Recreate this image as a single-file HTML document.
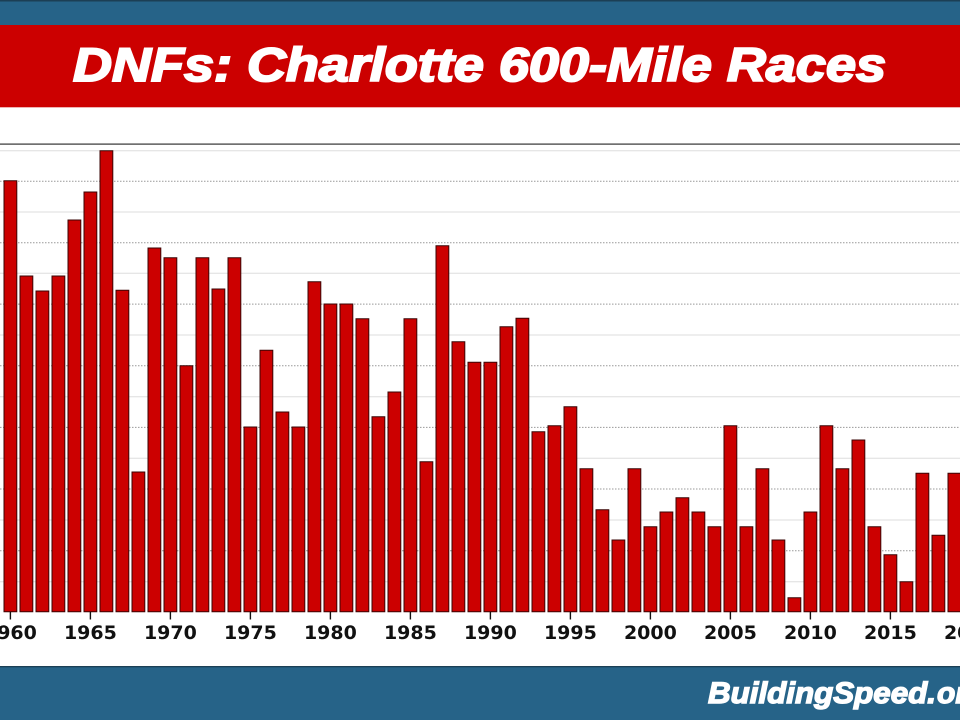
<!DOCTYPE html>
<html>
<head>
<meta charset="utf-8">
<style>
html,body{margin:0;padding:0;background:#fff;}
svg{display:block;}
</style>
</head>
<body>
<svg width="960" height="720" viewBox="0 0 960 720" xmlns="http://www.w3.org/2000/svg">
<rect x="0" y="0" width="960" height="720" fill="#ffffff"/>
<rect x="0" y="0" width="960" height="25" fill="#266388"/>
<rect x="0" y="0" width="960" height="1.5" fill="#1c3f55"/>
<rect x="0" y="25" width="960" height="82.3" fill="#cc0000"/>
<text x="73" y="81" font-family="Liberation Sans, sans-serif" font-weight="bold" font-style="italic" font-size="47" fill="#ffffff" stroke="#ffffff" stroke-width="2" textLength="813" lengthAdjust="spacingAndGlyphs">DNFs: Charlotte 600-Mile Races</text>
<rect x="0" y="143.5" width="960" height="1.2" fill="#333333"/>
<path d="M0 581.7H960M0 520H960M0 458.3H960M0 396.7H960M0 335H960M0 273.3H960M0 212H960M0 150.7H960" stroke="#dddddd" stroke-width="1" fill="none"/>
<path d="M0 550.8H960M0 489H960M0 427.4H960M0 365.8H960M0 304.1H960M0 242.7H960M0 181.2H960" stroke="#999999" stroke-width="1" stroke-dasharray="1.5,1.5" fill="none"/>
<path fill="#cc0000" stroke="#3a0505" stroke-width="1" d="M4 180.7h12.8V611.7H4zM20 276h12.8V611.7H20zM36 291h12.8V611.7H36zM52 276h12.8V611.7H52zM68 220h12.8V611.7H68zM84 192h12.8V611.7H84zM100 150.7h12.8V611.7H100zM116 290.3h12.8V611.7H116zM132 472h12.8V611.7H132zM148 248h12.8V611.7H148zM164 257.7h12.8V611.7H164zM180 365.7h12.8V611.7H180zM196 257.7h12.8V611.7H196zM212 289h12.8V611.7H212zM228 257.7h12.8V611.7H228zM244 427h12.8V611.7H244zM260 350.3h12.8V611.7H260zM276 412h12.8V611.7H276zM292 427h12.8V611.7H292zM308 281.7h12.8V611.7H308zM324 304h12.8V611.7H324zM340 304h12.8V611.7H340zM356 318.7h12.8V611.7H356zM372 416.7h12.8V611.7H372zM388 392h12.8V611.7H388zM404 318.7h12.8V611.7H404zM420 461.7h12.8V611.7H420zM436 245.7h12.8V611.7H436zM452 341.7h12.8V611.7H452zM468 362.3h12.8V611.7H468zM484 362.3h12.8V611.7H484zM500 326.7h12.8V611.7H500zM516 318.3h12.8V611.7H516zM532 431.7h12.8V611.7H532zM548 425.7h12.8V611.7H548zM564 406.7h12.8V611.7H564zM580 468.7h12.8V611.7H580zM596 509.7h12.8V611.7H596zM612 540h12.8V611.7H612zM628 468.7h12.8V611.7H628zM644 526.7h12.8V611.7H644zM660 512h12.8V611.7H660zM676 497.7h12.8V611.7H676zM692 512h12.8V611.7H692zM708 526.7h12.8V611.7H708zM724 425.7h12.8V611.7H724zM740 526.7h12.8V611.7H740zM756 468.7h12.8V611.7H756zM772 540h12.8V611.7H772zM788 597.7h12.8V611.7H788zM804 512h12.8V611.7H804zM820 425.7h12.8V611.7H820zM836 468.7h12.8V611.7H836zM852 440h12.8V611.7H852zM868 526.7h12.8V611.7H868zM884 554.7h12.8V611.7H884zM900 581.7h12.8V611.7H900zM916 473.3h12.8V611.7H916zM932 535.3h12.8V611.7H932zM948 473.3h12.8V611.7H948z"/>
<path d="M10.4 612v7.5M90.4 612v7.5M170.4 612v7.5M250.4 612v7.5M330.4 612v7.5M410.4 612v7.5M490.4 612v7.5M570.4 612v7.5M650.4 612v7.5M730.4 612v7.5M810.4 612v7.5M890.4 612v7.5" stroke="#111111" stroke-width="1.4" fill="none"/>
<g font-family="DejaVu Sans, sans-serif" font-weight="bold" font-size="19" fill="#111111" text-anchor="middle">
<text x="10.4" y="639">1960</text><text x="90.4" y="639">1965</text><text x="170.4" y="639">1970</text><text x="250.4" y="639">1975</text><text x="330.4" y="639">1980</text><text x="410.4" y="639">1985</text><text x="490.4" y="639">1990</text><text x="570.4" y="639">1995</text><text x="650.4" y="639">2000</text><text x="730.4" y="639">2005</text><text x="810.4" y="639">2010</text><text x="890.4" y="639">2015</text><text x="970.4" y="639">2020</text>
</g>
<rect x="0" y="666.5" width="960" height="53.5" fill="#266388"/>
<rect x="0" y="666" width="960" height="1.3" fill="#1c3f55"/>
<text x="708" y="703" font-family="Liberation Sans, sans-serif" font-weight="bold" font-style="italic" font-size="30" fill="#ffffff" stroke="#ffffff" stroke-width="1.4" textLength="228" lengthAdjust="spacingAndGlyphs">BuildingSpeed.</text>
<text x="937" y="703" font-family="Liberation Sans, sans-serif" font-weight="bold" font-style="italic" font-size="30" fill="#ffffff" stroke="#ffffff" stroke-width="1.4">org</text>
</svg>
</body>
</html>
